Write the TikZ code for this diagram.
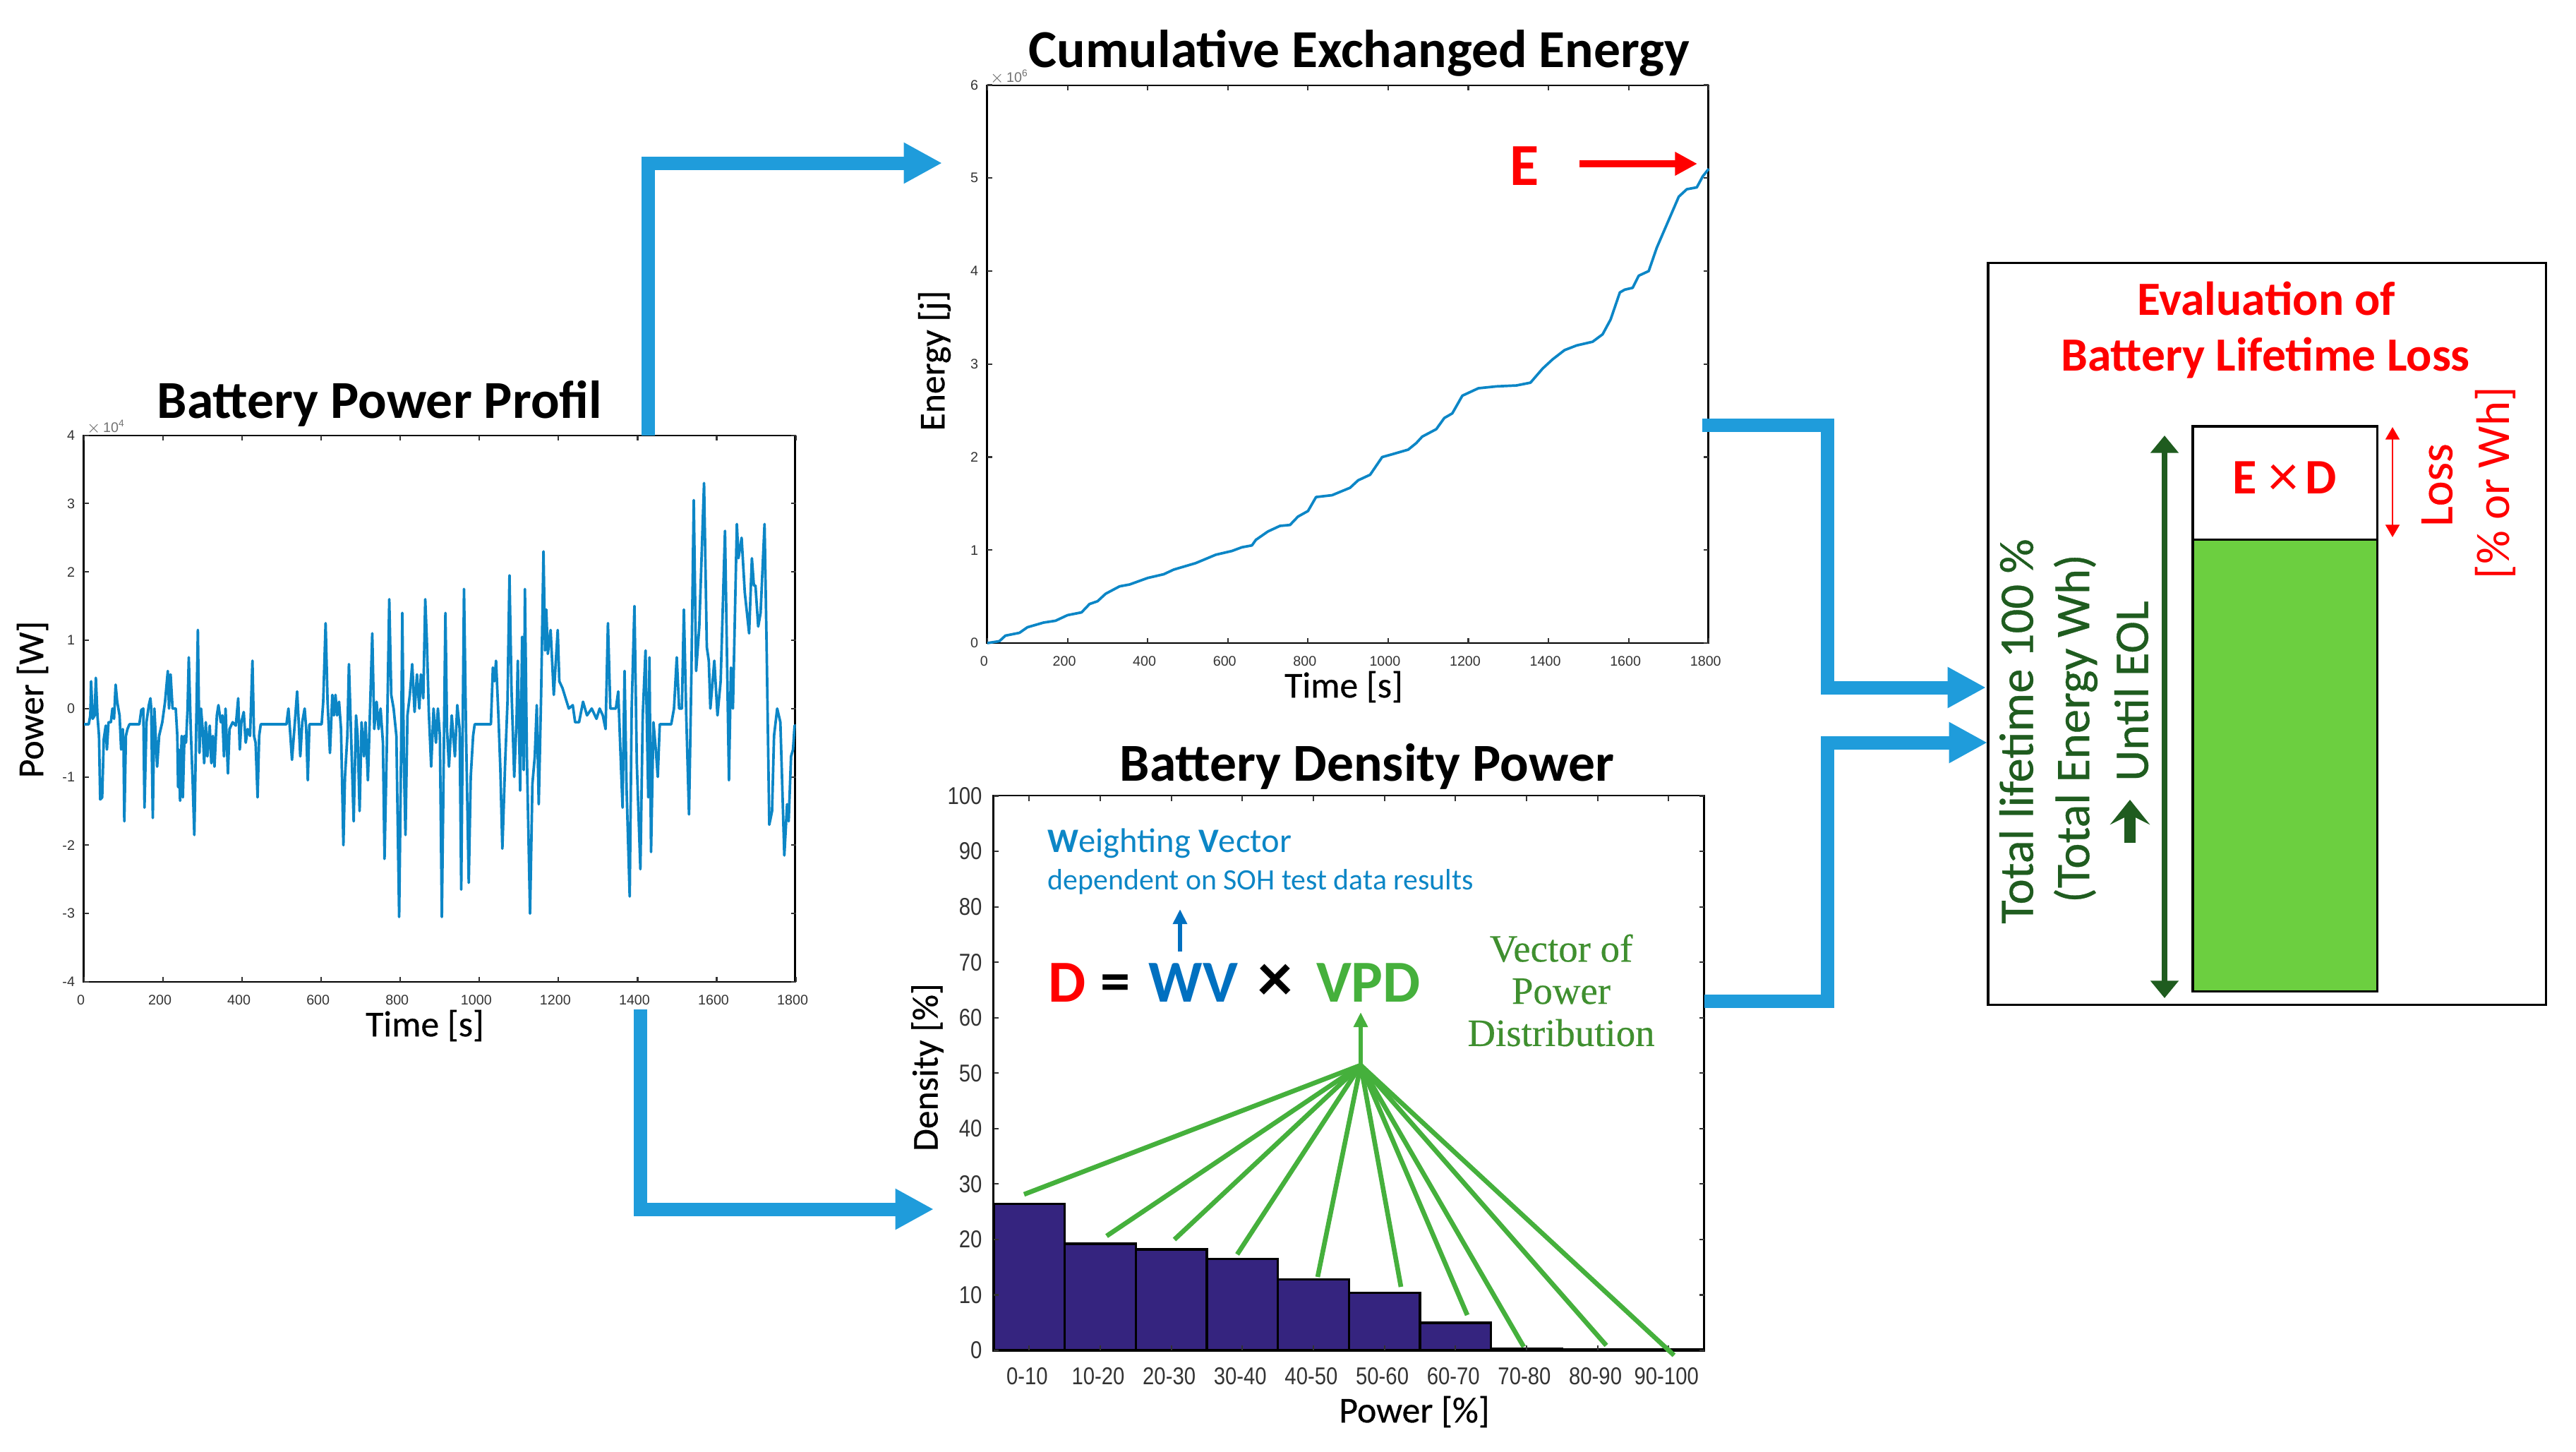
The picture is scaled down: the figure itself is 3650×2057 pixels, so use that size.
\documentclass[tikz,border=0pt]{standalone}
\usepackage{fontspec}
\setmainfont{Carlito}
\newfontfamily\heavyfont[FakeBold=.5]{Carlito}
\newfontfamily\tickfont{Liberation Sans}
\newfontfamily\tickfontnarrow[FakeStretch=.85]{Liberation Sans}
\newfontfamily\vectorfont[FakeBold=.3]{Liberation Serif}
\usetikzlibrary{arrows.meta}
\definecolor{flowblue}{HTML}{1F9CDB}
\definecolor{curveblue}{HTML}{0C86C6}
\definecolor{wvblue}{HTML}{0070C0}
\definecolor{vpdgreen}{HTML}{45B03C}
\definecolor{vectorgreen}{HTML}{3F8F2F}
\definecolor{barfill}{HTML}{35247F}
\definecolor{lifegreen}{HTML}{6CCF40}
\definecolor{lifedark}{HTML}{1F5C1F}
\definecolor{ticktext}{HTML}{333333}
\tikzset{
  plotframe/.style={draw=black,line width=.7pt,inner sep=0pt},
  plottick/.style={line width=.6pt,draw=black!80},
  curveline/.style={curveblue,line width=1.05pt,line join=round},
  flowarrow/.style={flowblue,line width=5.4pt,-{Triangle[length=15.5pt,width=15.5pt]}},
  titletext/.style={inner sep=0pt,font=\fontsize{21.5}{21.5}\selectfont\bfseries},
  axistext/.style={inner sep=0pt,font=\heavyfont\fontsize{14.7}{14.7}\selectfont},
  ticktextsmall/.style={inner sep=0pt,text=ticktext,font=\tickfont\fontsize{5.6}{5.6}\selectfont},
  ticktextbar/.style={inner sep=0pt,text=ticktext,font=\tickfontnarrow\fontsize{9.8}{9.8}\selectfont},
  formula/.style={inner sep=0pt,font=\fontsize{24}{24}\selectfont\bfseries},
  spoke/.style={vpdgreen,line width=1.9pt},
  lifetext/.style={inner sep=0pt,rotate=90,text=lifedark,font=\heavyfont\fontsize{19.5}{19.5}\selectfont},
  losstext/.style={inner sep=0pt,red,font=\fontsize{19.2}{19.2}\selectfont\bfseries},
  edtext/.style={inner sep=0pt,red,font=\fontsize{20}{20}\selectfont\bfseries},
}
\begin{document}
\begin{tikzpicture}[x=0.01cm,y=-0.01cm]
\useasboundingbox (0,0) rectangle (3650,2057);

\node (powertitle) [titletext] at (538,572) {Battery Power Profil};
\node (energytitle) [titletext] at (1926,75) {Cumulative Exchanged Energy};
\node (densitytitle) [titletext] at (1937,1086) {Battery Density Power};

\node (powerframe) [plotframe,minimum width=10.07cm,minimum height=7.74cm] at (622.5,1004) {};
\node (energyframe) [plotframe,minimum width=10.21cm,minimum height=7.9cm] at (1909.5,516) {};
\node (densityframe) [plotframe,minimum width=10.06cm,minimum height=7.86cm] at (1911,1520) {};

\begin{scope}[shift={(119,1391)},x=0.005594cm,y=0.9675cm]
\foreach \t in {0,200,...,1800} {
  \draw[plottick] (\t,0) -- ++(0pt,2pt);
  \draw[plottick] (\t,8) -- ++(0pt,-2pt);
  \node (powerx\t) [ticktextsmall,below=5pt] at (\t-8,0) {\t};
}
\foreach \v in {0,1,...,8} {
  \draw[plottick] (0,\v) -- ++(2pt,0pt);
  \draw[plottick] (1800,\v) -- ++(-2pt,0pt);
}
\foreach \v [evaluate=\v as \lab using int(\v-4)] in {0,1,...,8} {
  \node (powery\v) [ticktextsmall,left=3.5pt] at (0,\v) {\lab};
}
\node (powerexp) [ticktextsmall,text=ticktext!70,anchor=south west] at (5,8) {$\times$\,10\textsuperscript{4}};
\draw[curveline] plot coordinates {
(0,3.77)(12,3.77)(16,3.9)(18,4.4)(22,3.85)(27,3.9)(30,4.45)(34,3.9)(38,3.6)(41,2.67)(46,2.7)(50,3.55)(55,3.75)(58,3.4)(62,3.8)(68,3.8)(72,4)(76,3.85)(80,4.35)(84,4.1)(90,3.9)(94,3.4)(98,3.7)(100,3.45)(102,2.35)(106,3.6)(110,3.7)(115,3.77)
(140,3.77)(145,3.98)(150,4)(153,2.55)(158,3.8)(164,4.05)(168,4.15)(170,4)(174,2.4)(178,4)(185,3.15)(190,3.6)(198,3.8)(205,4.1)(212,4.55)(215,4)(219,4.5)(224,4)(232,4)(236,3.6)(238,2.85)(240,3.4)(243,2.65)(247,3.6)(250,2.7)(254,3.6)(258,3.5)(262,4)(265,4.75)(270,3.7)(275,2.9)(279,2.15)(284,3.8)(288,5.15)(292,3.35)(296,4)(300,3.7)(304,3.2)(308,3.8)(312,3.3)(318,3.75)(322,3.2)(326,3.6)(330,3.15)(336,3.9)(340,4.05)(346,3.8)(350,3.9)(354,3.3)(358,4)(364,3.05)(368,3.7)(376,3.8)(384,3.75)(390,4.15)(394,3.4)(398,3.8)(404,3.95)(409,3.5)(414,3.7)(420,3.6)(426,4.7)(430,3.6)(434,3.5)(439,2.7)(443,3.6)(447,3.77)
(512,3.77)(517,4)(522,3.6)(526,3.25)(532,3.7)(539,4.25)(543,3.8)(547,3.3)(552,3.8)(558,4)(562,3.7)(566,2.95)(570,3.77)
(601,3.77)(605,4.1)(611,5.25)(616,4.1)(622,3.35)(628,4.2)(632,3.9)(636,4.2)(640,3.9)(645,4.1)(650,3.7)(656,2)(660,3)(666,3.6)(670,4.65)(675,3.7)(682,2.35)(688,3.9)(692,3.6)(697,2.5)(702,3.8)(708,3.3)(712,3.8)(718,2.95)(724,4.1)(729,5.1)(734,3.7)(740,4.1)(745,3.7)(750,4)(756,3.5)(760,1.8)(766,3.5)(772,5.6)(777,4.2)(783,4)(790,3.6)(797,0.95)(802,3.4)(805,5.4)(809,3.2)(813,2.15)(818,3.9)(824,4.2)(830,4.65)(836,3.95)(842,4.5)(848,4)(852,4.5)(858,4.15)(863,5.6)(867,5)(872,3.95)(878,3.15)(884,4)(890,3.5)(895,4)(900,3.6)(905,0.95)(910,3.4)(914,5.4)(918,3.7)(923,3.15)(930,3.9)(938,3.3)(944,4.05)(950,3.7)(954,1.35)(961,5.75)(966,3.7)(973,1.45)(978,3)(984,3.6)(988,3.77)
(1029,3.77)(1034,4.6)(1038,4.4)(1042,4.7)(1048,3.9)(1053,3.1)(1058,1.95)(1065,3.2)(1071,4.1)(1076,5.95)(1081,4.3)(1088,3)(1094,3.85)(1097,4.7)(1103,2.8)(1108,5.05)(1112,3.1)(1115,5.75)(1120,3.3)(1128,1)(1134,2.9)(1140,3.3)(1145,4.05)(1150,2.6)(1156,4.2)(1162,6.3)(1166,4.85)(1169,5.45)(1173,4.8)(1180,5.15)(1188,4.2)(1198,5.15)(1202,4.4)(1210,4.3)(1218,4.15)(1226,4)(1236,4.05)(1242,3.8)(1252,3.8)(1262,4.1)(1272,3.9)(1284,4)(1296,3.85)(1304,4)(1312,3.9)(1319,3.7)(1325,5.25)(1331,4)(1345,4)(1351,4.25)(1358,3.15)(1362,2.55)(1367,4.55)(1372,2.85)(1380,1.25)(1385,4)(1392,5.5)(1398,3.2)(1407,1.65)(1413,3.9)(1420,4.85)(1427,2.7)(1430,4.75)(1434,1.9)(1440,3.8)(1446,3.4)(1451,3)(1456,3.77)
(1485,3.77)(1492,4)(1499,4.75)(1505,4)(1512,4)(1517,5.45)(1523,3.9)(1530,2.45)(1536,4.5)(1542,7.05)(1548,4.55)(1556,5.2)(1568,7.3)(1575,4.9)(1580,4.7)(1584,4)(1594,4.7)(1602,3.9)(1610,4.4)(1621,6.6)(1631,2.95)(1636,4.6)(1641,4)(1651,6.7)(1655,6.2)(1663,6.5)(1671,5.7)(1682,5.1)(1689,6.2)(1694,5.8)(1698,5.8)(1705,5.2)(1711,5.4)(1721,6.7)(1726,5)(1733,2.3)(1740,2.5)(1745,3.6)(1753,4)(1761,3.8)(1771,1.85)(1778,2.6)(1782,2.35)(1788,3.3)(1793,3.4)(1797,3.75)(1800,3.75)};
\end{scope}

\begin{scope}[shift={(1399,911)},x=0.005672cm,y=1.3167cm]
\foreach \t in {0,200,...,1800} {
  \draw[plottick] (\t,0) -- ++(0pt,2pt);
  \draw[plottick] (\t,6) -- ++(0pt,-2pt);
  \node (energyx\t) [ticktextsmall,below=5pt] at (\t-8,0) {\t};
}
\foreach \v in {0,1,...,6} {
  \draw[plottick] (0,\v) -- ++(2pt,0pt);
  \draw[plottick] (1800,\v) -- ++(-2pt,0pt);
  \node (energyy\v) [ticktextsmall,left=3.5pt] at (0,\v) {\v};
}
\node (energyexp) [ticktextsmall,text=ticktext!70,anchor=south west] at (5,6) {$\times$\,10\textsuperscript{6}};
\draw[curveline] plot coordinates {
(0,0)(30,.02)(45,.08)(80,.11)(100,.17)(140,.22)(170,.24)(200,.3)(235,.33)(255,.42)(275,.45)(295,.53)(330,.61)(355,.63)(400,.7)(440,.74)(465,.79)(520,.86)(570,.95)(610,.99)(635,1.03)(660,1.05)(670,1.11)(700,1.2)(730,1.26)(755,1.27)(775,1.36)(800,1.42)(820,1.57)(860,1.59)(905,1.67)(925,1.75)(955,1.81)(985,2)(1010,2.03)(1050,2.08)(1070,2.15)(1085,2.22)(1120,2.3)(1140,2.42)(1160,2.47)(1185,2.66)(1205,2.7)(1225,2.74)(1270,2.76)(1320,2.77)(1355,2.8)(1385,2.95)(1410,3.05)(1440,3.15)(1470,3.2)(1510,3.24)(1535,3.32)(1555,3.48)(1578,3.77)(1590,3.8)(1610,3.82)(1625,3.95)(1650,4)(1670,4.25)(1700,4.55)(1725,4.8)(1745,4.88)(1770,4.9)(1785,5.02)(1800,5.1)};
\end{scope}

\begin{scope}[shift={(1408,1913)},x=1.006cm,y=0.0785cm]
\foreach \i/\h in {0/26.4,1/19.2,2/18.2,3/16.5,4/12.8,5/10.4,6/5,7/.3,8/.1,9/.1}
  \draw[fill=barfill,draw=black,line width=1pt] (\i,0) rectangle (\i+1,\h);
\foreach \i in {0,...,9} {
  \draw[plottick] (\i+.5,0) -- ++(0pt,2pt);
  \draw[plottick] (\i+.5,100) -- ++(0pt,-2pt);
}
\foreach \v in {0,10,...,100} {
  \draw[plottick] (0,\v) -- ++(2pt,0pt);
  \draw[plottick] (10,\v) -- ++(-2pt,0pt);
  \node (densityy\v) [ticktextbar,left=4.5pt] at (0,\v) {\v};
}
\foreach \i/\lab in {0/0-10,1/10-20,2/20-30,3/30-40,4/40-50,5/50-60,6/60-70,7/70-80,8/80-90,9/90-100}
  \node (densityx\i) [ticktextbar] at (\i+.47,-4.6) {\lab};
\end{scope}

\node (powerxlabel) [axistext] at (602,1453) {Time [s]};
\node (powerylabel) [axistext,rotate=90] at (46,991) {Power [W]};
\node (energyxlabel) [axistext] at (1904,973) {Time [s]};
\node (energyylabel) [axistext,rotate=90] at (1324,511) {Energy [j]};
\node (densityxlabel) [axistext] at (2004,2000) {Power [\%]};
\node (densityylabel) [axistext,rotate=90] at (1314,1512) {Density [\%]};

\node (enamelabel) [formula,red] at (2160,235) {E};
\coordinate (etail) at (2238,232);
\coordinate (ehead) at (2405,232);
\draw[red,line width=3pt,-{Triangle[length=9pt,width=9pt]}] (etail) -- (ehead);

\node (wvtitle) [inner sep=0pt,anchor=west,text=curveblue,font=\fontsize{13.8}{13.8}\selectfont] at (1484,1195) {\textbf{W}eighting \textbf{V}ector};
\node (wvnote) [inner sep=0pt,anchor=west,text=curveblue,font=\fontsize{11.9}{11.9}\selectfont] at (1484,1249) {dependent on SOH test data results};
\node (dsym) [formula,red] at (1512,1392) {D};
\node (eqsym) [formula] at (1581,1400) {=};
\node (wvsym) [formula,text=wvblue] at (1691,1392) {WV};
\node (timessym) [formula,font=\fontsize{28}{28}\selectfont\bfseries] at (1807,1392) {×};
\node (vpdsym) [formula,text=vpdgreen] at (1939,1392) {VPD};
\node (vpdnote) [inner sep=0pt,align=center,text=vectorgreen,font=\vectorfont\fontsize{15.6}{17}\selectfont] at (2212,1403) {Vector of\\Power\\Distribution};

\coordinate (wvstart) at (1672,1348);
\coordinate (wvend) at (1672,1288);
\draw[wvblue,line width=1.5pt,-{Triangle[length=6pt,width=5.5pt]}] (wvstart) -- (wvend);
\coordinate (apex) at (1928,1509);
\coordinate (vpdend) at (1928,1434);
\draw[vpdgreen,line width=1.5pt,-{Triangle[length=6pt,width=5.5pt]}] (apex) -- (vpdend);
\foreach \n/\px/\py in {a/1451/1692,b/1568/1751,c/1664/1756,d/1753/1777,e/1867/1809,f/1985/1823,g/2079/1863,h/2159/1908,i/2276/1906,j/2372/1920} {
  \coordinate (spoke\n) at (\px,\py);
  \draw[spoke] (apex) -- (spoke\n);
}

\node (lossframe) [draw=black,line width=1pt,minimum width=7.9cm,minimum height=10.5cm,inner sep=0pt] at (3212,898) {};
\node (losstitleone) [losstext] at (3211,423) {Evaluation of};
\node (losstitletwo) [losstext] at (3210,507) {Battery Lifetime Loss};
\node (lossbox) [draw=black,line width=.9pt,fill=white,minimum width=2.61cm,minimum height=1.61cm,inner sep=0pt] at (3237.5,684.5) {};
\node (lifebox) [draw=black,line width=.9pt,fill=lifegreen,minimum width=2.61cm,minimum height=6.39cm,inner sep=0pt] at (3237.5,1084.5) {};
\node (esym) [edtext] at (3181,677) {E};
\node (xsym) [edtext,font=\fontsize{24}{24}\selectfont] at (3235,680) {×};
\node (lossdsym) [edtext] at (3289,677) {D};
\coordinate (losstop) at (3390,605);
\coordinate (lossbot) at (3390,761);
\draw[red,line width=.8pt,{Triangle[length=5pt,width=5.6pt]}-{Triangle[length=5pt,width=5.6pt]}] (losstop) -- (lossbot);
\node (losslabel) [inner sep=0pt,rotate=90,red,font=\heavyfont\fontsize{19.3}{19.3}\selectfont] at (3453,687) {Loss};
\node (lossunit) [inner sep=0pt,rotate=90,red,font=\fontsize{19}{19}\selectfont] at (3536,684) {[\% or Wh]};
\coordinate (lifetop) at (3067,617);
\coordinate (lifebot) at (3067,1414);
\draw[lifedark,line width=2.3pt,{Triangle[length=7pt,width=11pt]}-{Triangle[length=7pt,width=11pt]}] (lifetop) -- (lifebot);
\node (lifeone) [lifetext] at (2857,1036) {Total lifetime 100 \%};
\node (lifetwo) [lifetext] at (2941,1032) {(Total Energy Wh)};
\node (lifethree) [lifetext] at (3020,979) {Until EOL};
\coordinate (eoltail) at (3018,1194);
\coordinate (eolhead) at (3018,1133);
\draw[lifedark,line width=4.5pt,-{Stealth[length=10pt,width=16pt,inset=4pt]}] (eoltail) -- (eolhead);

\coordinate (powerup) at (918,617);
\coordinate (energyin) at (1335,231);
\draw[flowarrow] (powerup) |- (energyin);
\coordinate (powerdown) at (907,1430);
\coordinate (densityin) at (1323,1713);
\draw[flowarrow] (powerdown) |- (densityin);
\coordinate (energyout) at (2412,602);
\coordinate (energybend) at (2589,602);
\coordinate (lossina) at (2814,974);
\draw[flowarrow] (energyout) -- (energybend) |- (lossina);
\coordinate (densityout) at (2415,1418);
\coordinate (densitybend) at (2589,1418);
\coordinate (lossinb) at (2816,1052);
\draw[flowarrow] (densityout) -- (densitybend) |- (lossinb);
\end{tikzpicture}
\end{document}
